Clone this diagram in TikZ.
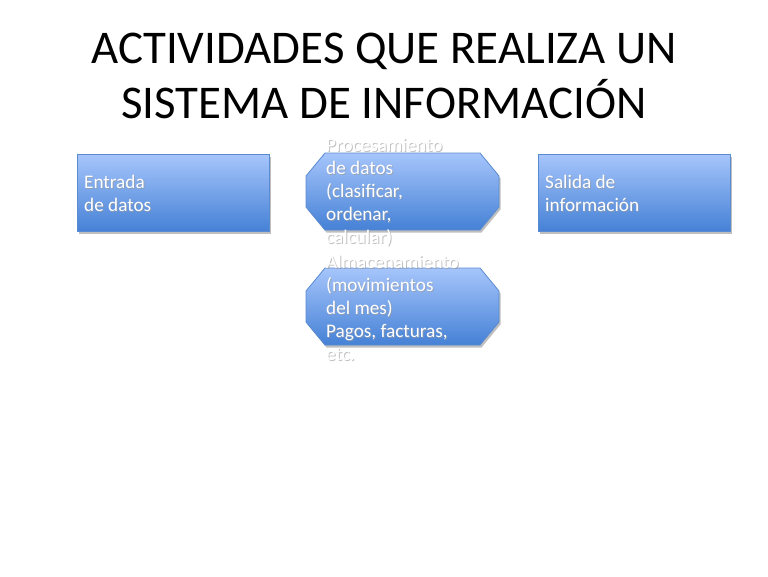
\documentclass[tikz,border=0pt]{standalone}
\usepackage{fontspec}
\setmainfont{Carlito}
\usetikzlibrary{shadows}
\definecolor{boxtop}{HTML}{A6C5FB}
\definecolor{boxbot}{HTML}{4581D6}
\definecolor{boxline}{HTML}{5A8AD0}
\tikzset{
  boxpaint/.style={draw=boxline, line width=0.8pt, top color=boxtop, bottom color=boxbot,
    drop shadow={shadow xshift=1.5pt, shadow yshift=-2.5pt, fill=black, opacity=0.25}},
  rectbox/.style={boxpaint, rectangle, minimum width=192pt, minimum height=77pt,
    inner sep=0pt, anchor=north west},
  bodytxt/.style={anchor=west, align=left, inner sep=0pt, text=white,
    font=\fontsize{19.2}{23}\selectfont},
  shadowtxt/.style={bodytxt, text=black!40, opacity=0.6},
  titletxt/.style={align=center, inner sep=0pt, font=\fontsize{46.9}{55}\selectfont}
}
\newcommand{\snipshape}[2]{%
  \path[boxpaint, shift={(#1,#2)}] (0,23) -- (19,0) -- (174,0) -- (193,23) -- (193,54)
    -- (174,77) -- (19,77) -- (0,54) -- cycle;}
\begin{document}
\begin{tikzpicture}[x=1pt,y=-1pt]
\useasboundingbox (0,0) rectangle (768,576);
\node[titletxt] (title) at (384,76) {ACTIVIDADES QUE REALIZA UN\\SISTEMA DE INFORMACIÓN};

\node[rectbox] (entrada) at (77,154) {};
\node[rectbox] (salida) at (538,154) {};
\snipshape{306}{153}
\coordinate (proc) at (402.5,191.5);
\snipshape{306}{268}
\coordinate (alm) at (402.5,306.5);

% text shadows
\node[shadowtxt] (entradaS) at (85,194) {Entrada\\de datos};
\node[shadowtxt] (salidaS) at (546,194) {Salida de\\información};
\node[shadowtxt] (procS) at (327,193) {Procesamiento\\de datos\\(clasificar,\\ordenar,\\calcular)};
\node[shadowtxt] (almS) at (327,309) {Almacenamiento\\(movimientos\\del mes)\\Pagos, facturas,\\etc.};
% texts
\node[bodytxt] (entradaT) at (84,193) {Entrada\\de datos};
\node[bodytxt] (salidaT) at (545,193) {Salida de\\información};
\node[bodytxt] (procT) at (326,192) {Procesamiento\\de datos\\(clasificar,\\ordenar,\\calcular)};
\node[bodytxt] (almT) at (326,308) {Almacenamiento\\(movimientos\\del mes)\\Pagos, facturas,\\etc.};
\end{tikzpicture}
\end{document}
